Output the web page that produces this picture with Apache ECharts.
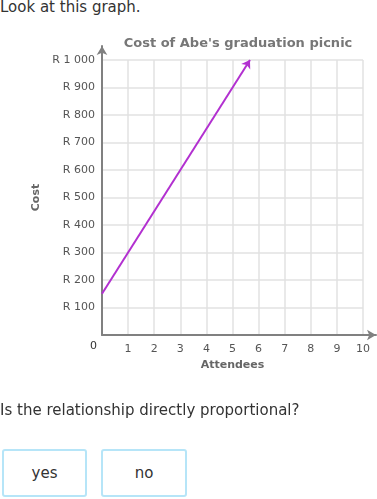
<!DOCTYPE html>
<html>
<head>
<meta charset="utf-8">
<script src="https://cdn.jsdelivr.net/npm/echarts@6/dist/echarts.min.js"></script>
<style>
  body { margin: 0; width: 377px; height: 499px; background: #fff; font-family: Verdana, "DejaVu Sans", sans-serif; color: #333; position: relative; overflow: hidden; }
  .txt { position: absolute; left: 0; font-size: 15px; }
  #chart { position: absolute; left: 0; top: 0; width: 377px; height: 380px; }
  .btn { position: absolute; top: 449px; height: 48px; border: 2px solid #b6e5f8; border-radius: 3px; box-sizing: border-box; text-align: center; line-height: 44px; font-size: 15px; color: #333; background: #fff; }
</style>
</head>
<body>
<div class="txt" style="top:-2px">Look at this graph.</div>
<div id="chart"></div>
<div class="txt" style="top:401px">Is the relationship directly proportional?</div>
<div class="btn" style="left:2px;width:85px">yes</div>
<div class="btn" style="left:101px;width:86px">no</div>
<script>
// line from the picture: cost in rand against number of attendees
var attendees = [0, 5.67];
var cost = [150, 1000];
var xTicks = [0, 10, 1];
var yTicks = [0, 1000, 100];

var myChart = echarts.init(document.getElementById('chart'));
var font = 'Verdana, "DejaVu Sans", sans-serif';

var option = {
    animation: false,
    title: {
        text: "Cost of Abe's graduation picnic",
        left: 233,
        textAlign: 'center',
        top: 32,
        textStyle: { color: '#777', fontSize: 13, fontWeight: 'bold', fontFamily: font }
    },
    grid: [
        { left: 102, right: 14, top: 60, bottom: 45 },
        // bigger grid only used for the arrowed axis lines
        { left: 102, right: 1, top: 46, bottom: 45 }
    ],
    xAxis: [
        {
            type: 'value', gridIndex: 0,
            min: xTicks[0], max: xTicks[1], interval: xTicks[2],
            axisLine: { show: false },
            axisTick: { show: false },
            splitLine: { lineStyle: { color: '#e2e2e2', width: 1.5 } },
            axisLabel: {
                color: '#555', fontSize: 11, fontFamily: font, margin: 9,
                formatter: function (v) { return v === 0 ? '' : String(v); }
            },
            name: 'Attendees', nameLocation: 'middle', nameGap: 24,
            nameTextStyle: { color: '#666', fontSize: 11, fontWeight: 'bold', fontFamily: font }
        },
        {
            type: 'value', gridIndex: 1, min: 0, max: 1,
            axisLine: { show: true, symbol: ['none', 'arrow'], symbolSize: [8, 9], lineStyle: { color: '#808080', width: 2 } },
            axisTick: { show: false }, axisLabel: { show: false }, splitLine: { show: false }
        }
    ],
    yAxis: [
        {
            type: 'value', gridIndex: 0,
            min: yTicks[0], max: yTicks[1], interval: yTicks[2],
            axisLine: { show: false },
            axisTick: { show: false },
            splitLine: { lineStyle: { color: '#e2e2e2', width: 1.5 } },
            axisLabel: {
                color: '#555', fontSize: 11, fontFamily: font, margin: 7,
                formatter: function (v) {
                    if (v === 0) return '';
                    return 'R ' + String(v).replace(/\B(?=(\d{3})+(?!\d))/g, ' ');
                }
            },
            name: 'Cost', nameLocation: 'middle', nameGap: 58,
            nameTextStyle: { color: '#666', fontSize: 11, fontWeight: 'bold', fontFamily: font }
        },
        {
            type: 'value', gridIndex: 1, min: 0, max: 1,
            axisLine: { show: true, symbol: ['none', 'arrow'], symbolSize: [8, 9], lineStyle: { color: '#808080', width: 2 } },
            axisTick: { show: false }, axisLabel: { show: false }, splitLine: { show: false }
        }
    ],
    graphic: [
        {
            type: 'text', left: 90, top: 341,
            style: { text: '0', fill: '#333', fontSize: 11, fontFamily: font }
        }
    ],
    series: [
        {
            type: 'lines',
            coordinateSystem: 'cartesian2d',
            xAxisIndex: 0, yAxisIndex: 0,
            symbol: ['none', 'arrow'],
            symbolSize: 8,
            lineStyle: { color: '#b230d0', width: 2, opacity: 1 },
            data: [{ coords: attendees.map(function (a, i) { return [a, cost[i]]; }) }]
        }
    ]
};
myChart.setOption(option);
</script>
</body>
</html>
